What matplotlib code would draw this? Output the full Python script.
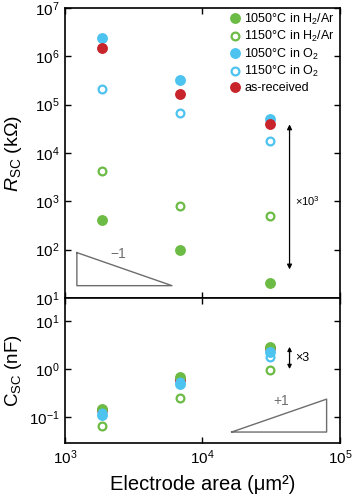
import matplotlib
matplotlib.use("Agg")
import matplotlib.pyplot as plt
import numpy as np
from matplotlib.ticker import LogLocator, NullLocator

plt.rcParams['font.family'] = ['Liberation Sans', 'DejaVu Sans']
plt.rcParams['mathtext.fontset'] = 'custom'
plt.rcParams['mathtext.rm'] = 'Liberation Sans'
plt.rcParams['mathtext.it'] = 'Liberation Sans:italic'
plt.rcParams['mathtext.bf'] = 'Liberation Sans:bold'

# Data
area = [1850, 6850, 30900]
labels = [r'1050°C in H$_2$/Ar', r'1150°C in H$_2$/Ar', r'1050°C in O$_2$',
          r'1150°C in O$_2$', 'as-received']
r_h2_1050 = [410, 100, 20]
r_h2_1150 = [4300, 800, 490]
r_o2_1050 = [2.4e6, 3.2e5, 5.0e4]
r_o2_1150 = [2.15e5, 6.6e4, 1.8e4]
r_asrec = [1.5e6, 1.7e5, 3.9e4]

c_h2_1050 = [0.147, 0.67, 2.9]
c_h2_1150 = [0.066, 0.25, 0.97]
c_o2_1050 = [0.11, 0.48, 2.3]
c_o2_1150 = [0.12, 0.55, 1.75]
c_asrec = [0.14, 0.6, 2.7]

green = '#6cbb45'
blue = '#4dc3f0'
red = '#c8242b'
tri_gray = '#6d6d6d'

fig = plt.figure(figsize=(3.52, 5.0), dpi=100)
ax1 = fig.add_axes([0.1847, 0.404, 0.781, 0.580])
ax2 = fig.add_axes([0.1847, 0.114, 0.781, 0.290])

ms = 6.8
mew = 1.6

top_series = [
    (r_h2_1050, labels[0], green, True),
    (r_h2_1150, labels[1], green, False),
    (r_o2_1050, labels[2], blue, True),
    (r_o2_1150, labels[3], blue, False),
    (r_asrec, labels[4], red, True),
]
bot_series = [
    (c_asrec, labels[4], red, True),
    (c_h2_1050, labels[0], green, True),
    (c_o2_1150, labels[3], blue, False),
    (c_o2_1050, labels[2], blue, True),
    (c_h2_1150, labels[1], green, False),
]
for v, lab, col, filled in top_series:
    if filled:
        ax1.plot(area, v, 'o', ls='none', ms=ms, color=col, mec=col, label=lab)
    else:
        ax1.plot(area, v, 'o', ls='none', ms=ms - 1.2, mfc='white', mec=col, mew=mew, label=lab)
for v, lab, col, filled in bot_series:
    if filled:
        ax2.plot(area, v, 'o', ls='none', ms=ms, color=col, mec=col)
    else:
        ax2.plot(area, v, 'o', ls='none', ms=ms - 1.2, mfc='white', mec=col, mew=mew)

for ax in (ax1, ax2):
    ax.set_xscale('log')
    ax.set_yscale('log')
    ax.set_xlim(1e3, 1e5)
    ax.xaxis.set_major_locator(LogLocator(base=10, numticks=10))
    ax.xaxis.set_minor_locator(NullLocator())
    ax.yaxis.set_major_locator(LogLocator(base=10, numticks=20))
    ax.yaxis.set_minor_locator(NullLocator())
    ax.tick_params(which='both', direction='in', top=True, right=True, length=4,
                   width=1.0, labelsize=11, pad=4)
    for s in ax.spines.values():
        s.set_linewidth(1.2)

ax1.set_ylim(10, 1e7)
ax2.set_ylim(0.029, 30)
ax1.tick_params(labelbottom=False)

ax1.set_ylabel(r'$R_{\rm SC}$ (k$\Omega$)', fontsize=14)
ax2.set_ylabel(r'C$_{\rm SC}$ (nF)', fontsize=13.5)
ax2.set_xlabel('Electrode area (\u03bcm\u00b2)', fontsize=14.5, labelpad=6)
ax1.yaxis.set_label_coords(-0.15, 0.5)
ax2.yaxis.set_label_coords(-0.15, 0.5)

leg = ax1.legend(loc='upper right', frameon=False, fontsize=9, handletextpad=0.25,
                 borderaxespad=0.0, labelspacing=0.2, handlelength=1.0,
                 bbox_to_anchor=(1.0, 1.005))

# Slope triangles
tx1 = [1220, 1220, 6000, 1220]
ty1 = [87, 18, 18, 87]
ax1.plot(tx1, ty1, color=tri_gray, lw=1.0)
ax1.text(2430, 83, '\u22121', color=tri_gray, fontsize=10, ha='center', va='center')

tx2 = [16300, 80000, 80000, 16300]
ty2 = [0.049, 0.049, 0.237, 0.049]
ax2.plot(tx2, ty2, color=tri_gray, lw=1.0)
ax2.text(37200, 0.215, '+1', color=tri_gray, fontsize=10, ha='center', va='center')

# Arrows
ax1.annotate('', xy=(43000, 39), xytext=(43000, 3.9e4),
             arrowprops=dict(arrowstyle='<|-|>', color='black', lw=0.9,
                             mutation_scale=7, shrinkA=0, shrinkB=0))
ax1.text(47000, 1000, r'×10$^3$', fontsize=8, ha='left', va='center')

ax2.annotate('', xy=(43000, 1.0), xytext=(43000, 2.9),
             arrowprops=dict(arrowstyle='<|-|>', color='black', lw=0.9,
                             mutation_scale=6, shrinkA=0, shrinkB=0))
ax2.text(47000, 1.7, '×3', fontsize=9, ha='left', va='center')

fig.savefig('out.png', dpi=100)
